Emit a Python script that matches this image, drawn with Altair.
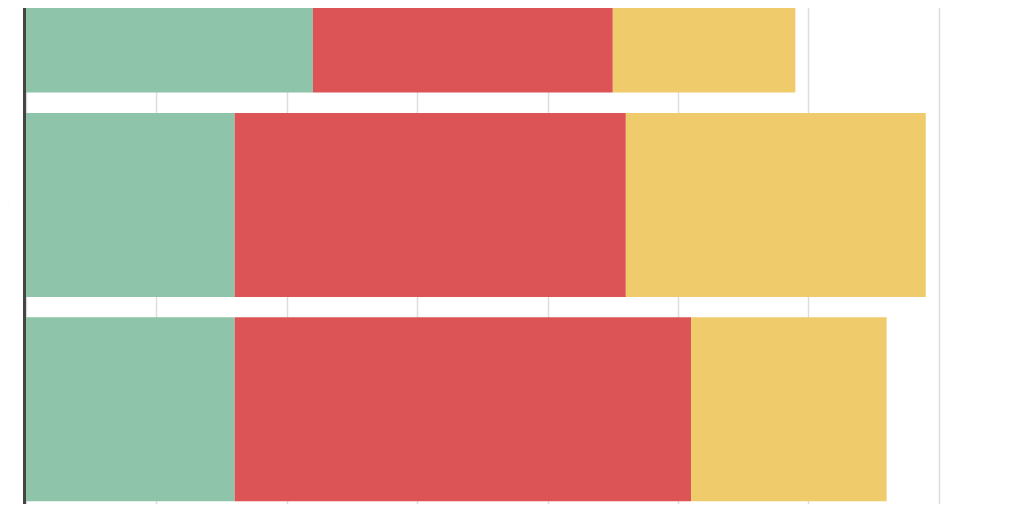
import altair as alt
import pandas as pd

# Category labels (y axis) and series
categories = ["2018", "2020", "2022"]
series = ["A", "B", "C"]

# Series values per category (x axis step = 10)
green_vals = [22, 16, 16]
red_vals = [23, 30, 35]
yellow_vals = [14, 23, 15]

colors = ["#8EC4A9", "#DC5456", "#EFCB6C"]
tick_values = [0, 10, 20, 30, 40, 50, 60, 70]

rows = []
for i, cat in enumerate(categories):
    for k, (s, vals) in enumerate(zip(series, [green_vals, red_vals, yellow_vals])):
        rows.append({"year": cat, "series": s, "value": vals[i], "order": k})
df = pd.DataFrame(rows)

chart = (
    alt.Chart(df)
    .mark_bar()
    .encode(
        y=alt.Y(
            "year:N",
            sort=categories,
            scale=alt.Scale(range=[-109.5, 503.4], paddingInner=0.1, paddingOuter=0.05),
            axis=alt.Axis(
                title=None,
                ticks=False,
                grid=False,
                domainColor="#444444",
                domainWidth=3,
                labelFontSize=18,
                labelColor="#444444",
                labelFont="Open Sans",
                labelPadding=16,
                offset=2,
            ),
        ),
        x=alt.X(
            "value:Q",
            stack="zero",
            scale=alt.Scale(domain=[0, 75.92], nice=False),
            axis=alt.Axis(
                values=tick_values,
                grid=True,
                gridColor="#dddddd",
                gridWidth=1.5,
                labels=False,
                ticks=False,
                domain=False,
                title=None,
            ),
        ),
        color=alt.Color("series:N", scale=alt.Scale(domain=series, range=colors), legend=None),
        order=alt.Order("order:Q"),
    )
    .properties(
        width=990,
        height=496,
        autosize=alt.AutoSizeParams(type="none"),
        padding={"left": 18, "top": 0, "right": 0, "bottom": 0},
    )
    .configure_view(stroke=None)
)

chart.save("out.html", embed_options={"renderer": "svg", "actions": False})
